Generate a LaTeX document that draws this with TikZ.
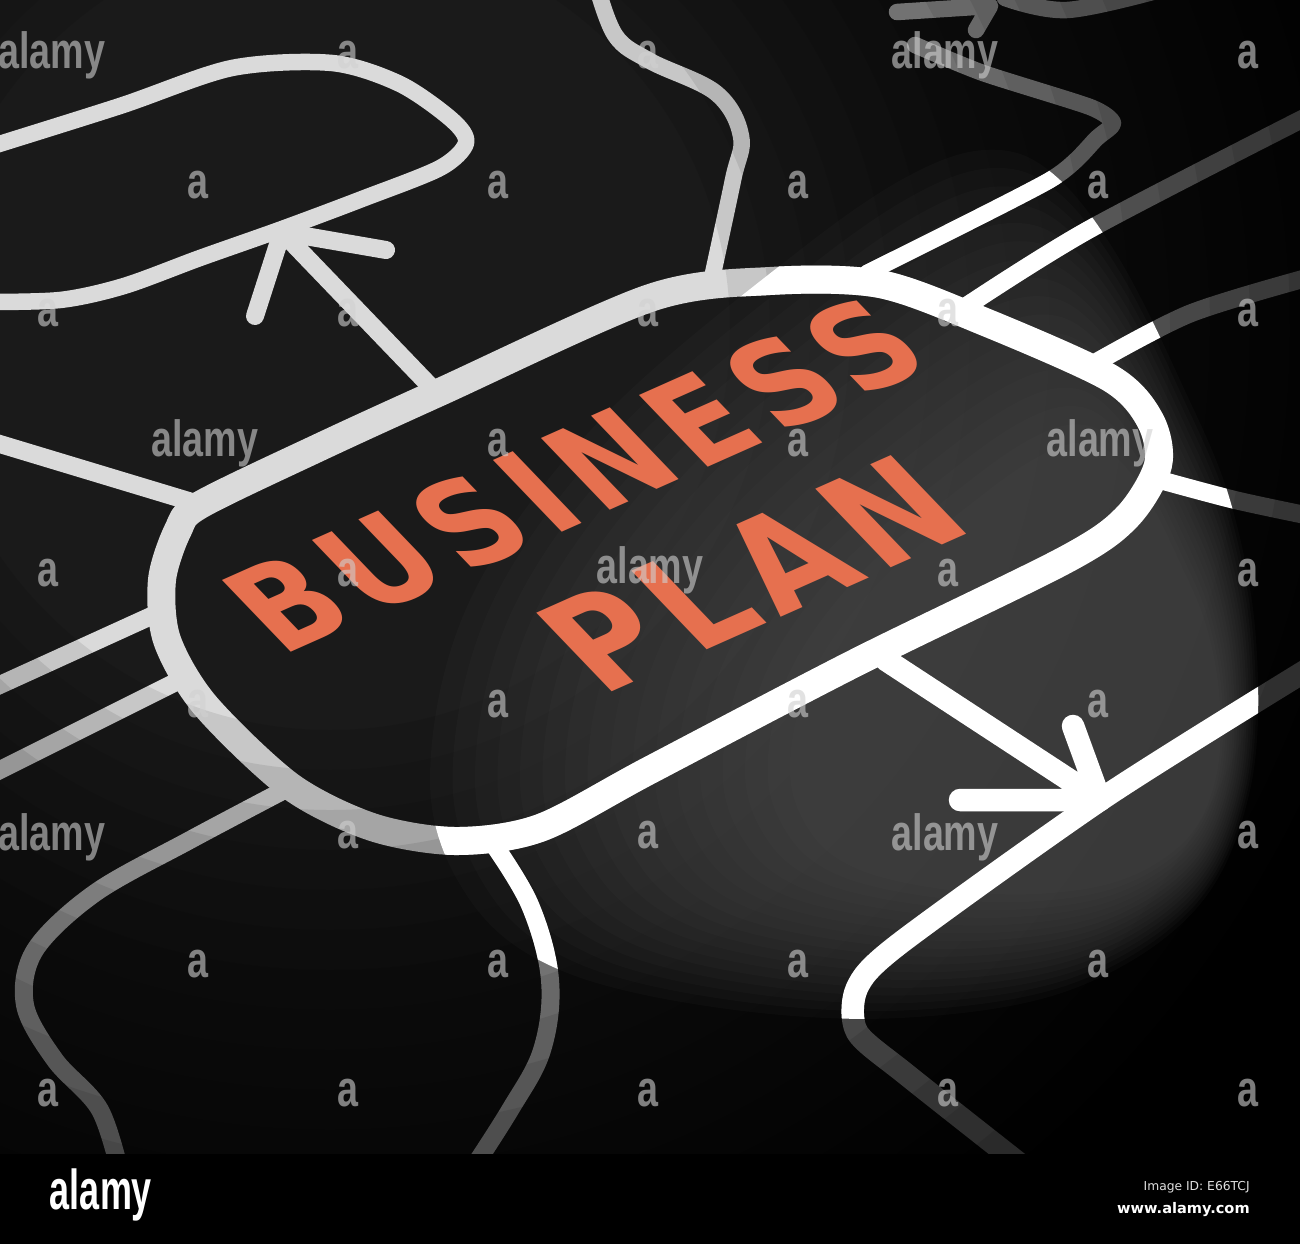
\documentclass[tikz,border=0pt]{standalone}
\usepackage{fontspec}
\setmainfont{DejaVu Sans}
\newfontfamily\markfont{Liberation Sans}
\newfontfamily\titlefont[LetterSpace=9]{DejaVu Sans}

\definecolor{bgcol}{HTML}{1A1A1A}
\definecolor{spotcol}{HTML}{585858}
\definecolor{chalkcol}{HTML}{DADADA}
\definecolor{inkcol}{HTML}{E6704F}
\definecolor{markcol}{HTML}{D0D0D0}

\tikzset{
  chalk/.style={draw=chalkcol, line width=3.6mm, line cap=round, line join=round},
  thinchalk/.style={chalk, line width=3.3mm},
  widechalk/.style={chalk, line width=4.5mm},
  boxline/.style={chalk, line width=5.6mm},
  title/.style={text=inkcol, inner sep=0pt, rotate=24, xslant=-.36, xscale=.9},
  wmark/.style={text=markcol, text opacity=.6, inner sep=0pt, xscale=.74,
    font=\markfont\bfseries\fontsize{29}{29}\selectfont},
  logo/.style={text=white, inner sep=0pt, xscale=.64,
    font=\markfont\bfseries\fontsize{32}{32}\selectfont},
}

% outline of the light spot
\newcommand\spotshape{plot[smooth cycle, tension=.6] coordinates {
  (1000,150) (1060,180) (1120,260) (1180,380) (1230,500) (1256,640)
  (1250,790) (1195,910) (1070,990) (900,1018) (720,1008) (560,970)
  (470,900) (430,780) (470,600) (600,420) (800,250) (920,170)}}

% all chalk strokes, drawn twice (dim, then lit by the spot)
\newcommand\chalkpaths{
  % main box
  \draw[boxline] plot[smooth cycle, tension=.5] coordinates {
    (200,505) (320,447) (440,392) (650,298) (770,281) (880,284) (985,322)
    (1110,378) (1150,420) (1158,465) (1127,517) (1065,560) (857,662)
    (650,770) (540,828) (455,841) (372,827) (290,786) (205,705) (167,640)
    (162,580) (178,530)};
  % box top left
  \draw[thinchalk] plot[smooth, tension=.5] coordinates {
    (-20,150) (120,106) (232,68) (332,63) (400,84) (452,120) (466,143)
    (440,168) (362,199) (282,229) (200,258) (124,286) (60,300) (-20,302)};
  % arrows
  \draw[chalk] (upFoot) -- (upTip) -- (upBarbA) (upTip) -- (upBarbB);
  \draw[widechalk] (downFoot) -- (downTip) -- (downBarbA) (downTip) -- (downBarbB);
  % lines leaving the box
  \draw[chalk] (-20,438) -- (192,502);
  \draw[chalk] (-20,694) -- (160,612);
  \draw[chalk] (-20,780) -- (180,680);
  \draw[chalk] plot[smooth, tension=.55] coordinates {
    (292,786) (190,840) (95,893) (35,950) (25,1005) (55,1060) (100,1110) (122,1180)};
  \draw[chalk] plot[smooth, tension=.6] coordinates {
    (492,842) (530,905) (550,980) (542,1050) (510,1110) (465,1180)};
  \draw[thinchalk] plot[smooth, tension=.6] coordinates {
    (712,278) (733,180) (741,136) (716,93) (650,61) (615,35) (595,-20)};
  \draw[thinchalk] plot[smooth, tension=.4] coordinates {
    (867,273) (1050,180) (1097,138) (1113,123) (1090,107) (983,73) (915,45)};
  \draw[thinchalk] (897,12) -- (990,6) -- (976,30);
  \draw[thinchalk] plot[smooth, tension=.6] coordinates {(1005,-2) (1067,10) (1160,-10)};
  \draw[chalk] plot[smooth, tension=.5] coordinates {(965,307) (1090,229) (1310,115)};
  \draw[chalk] plot[smooth, tension=.5] coordinates {(1086,368) (1189,314) (1310,277)};
  \draw[chalk] plot[smooth, tension=.5] coordinates {(1160,480) (1235,500) (1310,516)};
  \draw[widechalk] plot[smooth, tension=.45] coordinates {
    (1310,668) (1106,796) (899,944) (857,988) (857,1032) (907,1075) (1040,1180)};
}

\begin{document}
\begin{tikzpicture}[x=0.02cm, y=-0.02cm]
  \useasboundingbox (0,0) rectangle (1300,1244);

  \coordinate (upFoot) at (432,388);
  \coordinate (upTip) at (282,232);
  \coordinate (upBarbA) at (386,250);
  \coordinate (upBarbB) at (255,316);
  \coordinate (downFoot) at (886,660);
  \coordinate (downTip) at (1100,800);
  \coordinate (downBarbA) at (1073,726);
  \coordinate (downBarbB) at (960,800);

  \begin{scope}
    \clip (0,0) rectangle (1300,1154);
    \fill[bgcol] (0,0) rectangle (1300,1154);
    \chalkpaths
    % darken the corners
    \foreach \r in {400,440,...,1280}
      \fill[black, opacity=.085, even odd rule]
        (-50,-50) rectangle (1350,1200) (330,330) circle[radius=\r];
    % the spot: soft fill, then the lit strokes
    \foreach \s in {1,.97,...,.5}
      \fill[spotcol, opacity=.065, scale around={\s:(1180,760)}] \spotshape;
    \begin{scope}
      \clip \spotshape;
      \begin{scope}[chalk/.style={draw=white, line width=3.6mm, line cap=round, line join=round}]
        \chalkpaths
      \end{scope}
    \end{scope}
  \end{scope}

  \node[title, font=\titlefont\bfseries\fontsize{73}{73}\selectfont] (business) at (575,475) {BUSINESS};
  \node[title, font=\titlefont\bfseries\fontsize{80}{80}\selectfont] (plan) at (752,574) {PLAN};

  % watermark grid
  \foreach \x/\y in {52/55, 945/55, 205/443, 1100/443, 650/570, 52/837, 945/837}
    \node[wmark] (big-\x-\y) at (\x,\y) {alamy};
  \foreach \x/\y in {348/55, 648/55, 1248/55,
      198/185, 498/185, 798/185, 1098/185,
      48/313, 348/313, 648/313, 948/313, 1248/313,
      498/443, 798/443,
      48/573, 348/573, 948/573, 1248/573,
      198/704, 498/704, 798/704, 1098/704,
      348/835, 648/835, 1248/835,
      198/964, 498/964, 798/964, 1098/964,
      48/1093, 348/1093, 648/1093, 948/1093, 1248/1093}
    \node[wmark] (small-\x-\y) at (\x,\y) {a};

  % footer
  \fill[black] (0,1154) rectangle (1300,1244);
  \node[logo] (logo) at (101,1195) {alamy};
  \node[anchor=east, inner sep=0pt, text=white!88!black, font=\fontsize{7}{7}\selectfont]
    (imageid) at (1250,1187) {Image ID: E66TCJ};
  \node[anchor=east, inner sep=0pt, text=white, font=\bfseries\fontsize{8.3}{8.3}\selectfont]
    (site) at (1250,1210) {www.alamy.com};
\end{tikzpicture}
\end{document}
